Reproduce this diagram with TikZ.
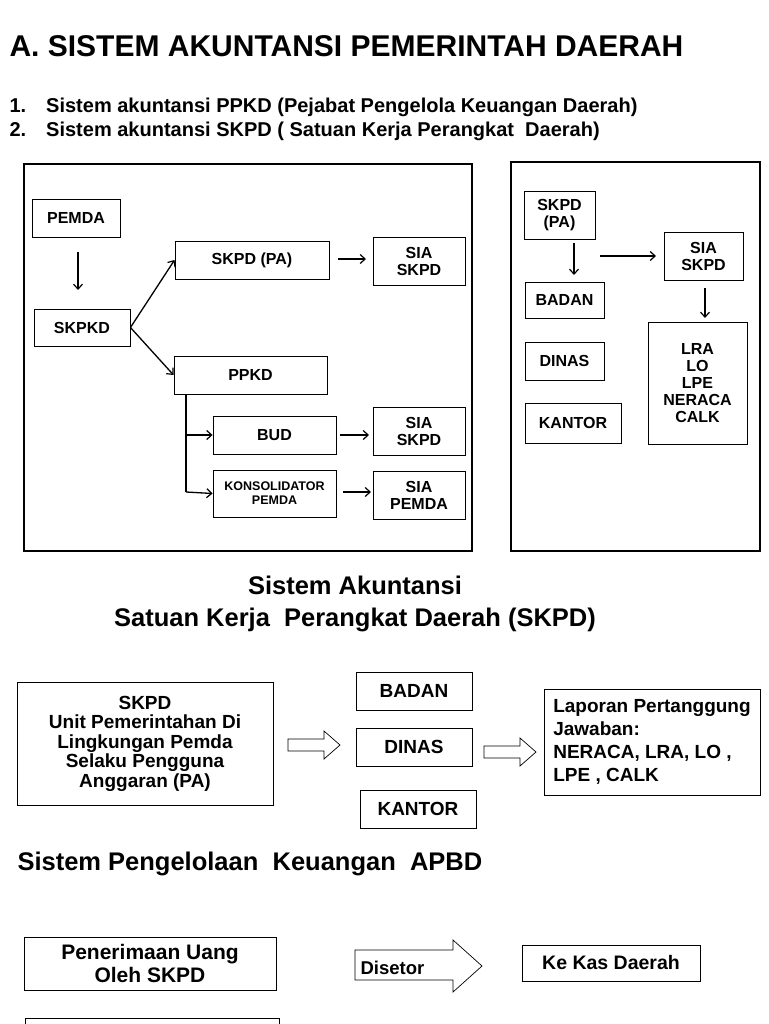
\documentclass[tikz,border=0pt]{standalone}
\usepackage{fontspec}
\setmainfont{Liberation Sans}
\usetikzlibrary{shadows,arrows.meta}
\newcommand\bx[7][]{\node[box,#1,minimum width={(#5-#3)*1pt},minimum height={(#6-#4)*1pt}] (#2) at ({(#3+#5)/2},{(#4+#6)/2}) {#7};}
\begin{document}
\begin{tikzpicture}[x=1pt,y=-1pt,
  box/.style={draw,line width=0.9pt,fill=white,align=center,inner sep=1pt,font=\bfseries\fontsize{16}{17}\selectfont,drop shadow={shadow xshift=1.2pt,shadow yshift=-1.2pt,fill=gray!70,opacity=1}},
  arr/.style={-{Straight Barb[length=5pt,width=9pt,line width=1.2pt]},line width=1.3pt},
  hol/.style={draw,line width=0.7pt,fill=white},
  frame/.style={draw,line width=1.1pt}]
\useasboundingbox (0,0) rectangle (768,1024);
\node[anchor=west,font=\bfseries\fontsize{30}{34}\selectfont] (t) at (6,46) {A. SISTEM AKUNTANSI PEMERINTAH DAERAH};
\node[anchor=west,font=\bfseries\fontsize{20}{24}\selectfont] (l1) at (6,107) {1.\hspace{20pt}Sistem akuntansi PPKD (Pejabat Pengelola Keuangan Daerah)};
\node[anchor=west,font=\bfseries\fontsize{20}{24}\selectfont] (l2) at (6,131) {2.\hspace{20pt}Sistem akuntansi SKPD ( Satuan Kerja Perangkat\ \ Daerah)};
% left frame
\draw[frame] (24,164) rectangle (472,551);
\bx{pemda}{32}{199}{120}{237}{PEMDA}
\bx{skpkd}{34}{309}{130}{346}{SKPKD}
\bx{skpd}{175}{241}{329}{279}{SKPD (PA)}
\bx{sia1}{373}{237}{465}{285}{SIA\\SKPD}
\bx{ppkd}{174}{356}{327}{394}{PPKD}
\bx{bud}{213}{416}{336}{454}{BUD}
\bx{sia2}{373}{407}{465}{455}{SIA\\SKPD}
\bx[font=\bfseries\fontsize{12.5}{14}\selectfont]{kons}{213}{470}{336}{517}{KONSOLIDATOR\\PEMDA}
\bx{sia3}{373}{471}{465}{519}{SIA\\PEMDA}
\coordinate (a1) at (78,252); \coordinate (a2) at (78,290);
\draw[arr] (a1) -- (a2);
\draw[arr] (skpkd.east) -- (skpd.west);
\draw[arr] (skpkd.east) -- (ppkd.west);
\coordinate (b1) at (338,259); \coordinate (b2) at (366,259);
\draw[arr] (b1) -- (b2);
\coordinate (v1) at (186,394); \coordinate (v2) at (186,492); \coordinate (v3) at (186,435);
\draw[line width=1.3pt] (v1) -- (v2);
\draw[arr] (v3) -- (bud.west);
\draw[arr] (v2) -- (kons.west);
\coordinate (c1) at (340,435); \coordinate (c2) at (369,435);
\draw[arr] (c1) -- (c2);
\coordinate (d1) at (343,492); \coordinate (d2) at (371,492);
\draw[arr] (d1) -- (d2);
% right frame
\draw[frame] (511,162) rectangle (760,551);
\bx{rskpd}{524}{191}{595}{239}{SKPD\\(PA)}
\bx{rsia}{664}{232}{743}{280}{SIA\\SKPD}
\bx{rbadan}{525}{282}{604}{318}{BADAN}
\bx{rdinas}{525}{342}{604}{380}{DINAS}
\bx{rkantor}{525}{403}{621}{443}{KANTOR}
\bx{lra}{648}{322}{747}{444}{LRA\\LO\\LPE\\NERACA\\CALK}
\coordinate (e1) at (574,243); \coordinate (e2) at (574,275);
\draw[arr] (e1) -- (e2);
\coordinate (f1) at (600,256); \coordinate (f2) at (656,256);
\draw[arr] (f1) -- (f2);
\coordinate (g1) at (705,288); \coordinate (g2) at (705,318);
\draw[arr] (g1) -- (g2);
% middle title
\node[font=\bfseries\fontsize{25.5}{32}\selectfont,align=center] (mt) at (355,604) {Sistem Akuntansi\\Satuan Kerja\ \ Perangkat Daerah (SKPD)};
\bx[font=\bfseries\fontsize{19}{19.5}\selectfont]{lskpd}{17}{682}{273}{805}{SKPD\\Unit Pemerintahan Di\\Lingkungan Pemda\\Selaku Pengguna\\Anggaran (PA)}
\bx[font=\bfseries\fontsize{19}{20}\selectfont]{lbadan}{356}{672}{472}{710}{BADAN}
\bx[font=\bfseries\fontsize{19}{20}\selectfont]{ldinas}{356}{728}{472}{766}{DINAS}
\bx[font=\bfseries\fontsize{19}{20}\selectfont]{lkantor}{360}{790}{476}{828}{KANTOR}
\bx[font=\bfseries\fontsize{19}{23}\selectfont,align=left]{lap}{544}{689}{760}{795}{Laporan Pertanggung\\Jawaban:\\NERACA, LRA, LO ,\\LPE , CALK}
\draw[hol] (288,739) -- (324,739) -- (324,731) -- (340,745) -- (324,759) -- (324,751) -- (288,751) -- cycle;
\draw[hol] (484,746) -- (520,746) -- (520,738) -- (536,752) -- (520,766) -- (520,758) -- (484,758) -- cycle;
\node[anchor=west,font=\bfseries\fontsize{25.5}{30}\selectfont] (st) at (14,864) {Sistem Pengelolaan\ \ Keuangan\ \ APBD};
\bx[font=\bfseries\fontsize{21}{23}\selectfont]{pen}{24}{937}{276}{990}{Penerimaan Uang\\Oleh SKPD}
\draw[line width=0.7pt,fill=white] (355,950) -- (453,950) -- (453,940) -- (482,966) -- (453,992) -- (453,980) -- (355,980) -- cycle;
\node[anchor=west,font=\bfseries\fontsize{18.5}{22}\selectfont] (dis) at (357,968) {Disetor};
\bx[font=\bfseries\fontsize{19.5}{22}\selectfont]{kas}{522}{945}{700}{981}{Ke Kas Daerah}
\draw[line width=0.9pt,fill=white] (25,1030) -- (25,1018) -- (279,1018) -- (279,1030);
\end{tikzpicture}
\end{document}
